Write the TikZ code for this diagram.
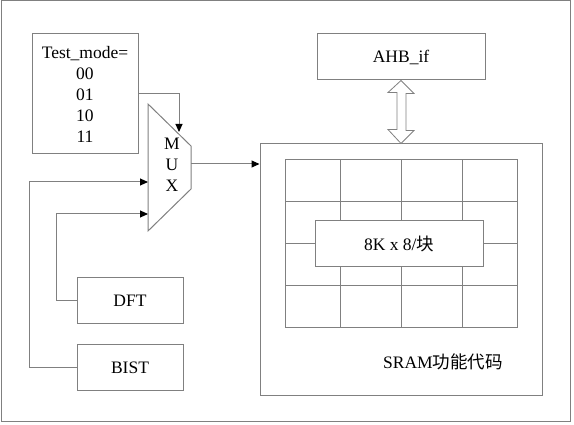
\documentclass[tikz,border=0pt]{standalone}
\usepackage{fontspec}
\setmainfont{Liberation Serif}
\newfontfamily\tnr{Liberation Serif}
\newfontfamily\cjk{Noto Sans CJK SC}
\usetikzlibrary{arrows.meta,calc}
\definecolor{linec}{RGB}{128,128,128}
\begin{document}
\begin{tikzpicture}[x=1pt,y=-1pt,
  font=\tnr\fontsize{17.5}{21}\selectfont,
  box/.style={draw=linec, line width=1pt, inner sep=0pt},
  conn/.style={draw=linec, line width=1pt, -{Triangle[length=8pt,width=7pt,fill=black,color=black]}},
  gridl/.style={draw=linec, line width=1pt}]
\useasboundingbox (0,0) rectangle (574,425);
\draw[linec, line width=1pt] (1,1) rectangle (570,421);

% Test mode box
\node[box, minimum width=106pt, minimum height=120pt, align=center] (tm) at (85,94)
  {Test\_mode=\\00\\01\\10\\11};

% AHB interface
\node[box, minimum width=168pt, minimum height=46pt] (ahb) at (401,57) {AHB\_if};

% SRAM outer box
\node[box, minimum width=282pt, minimum height=251pt] (sram) at (401,269.5) {};

% grid
\draw[gridl] (285,160) rectangle (517,328);
\foreach \gx in {340,401,462} \draw[gridl] (\gx,160) -- (\gx,328);
\foreach \gy in {202,244,286} \draw[gridl] (285,\gy) -- (517,\gy);

\node[box, fill=white, minimum width=168pt, minimum height=46pt] (blk) at (399,244) {8K x 8/{\cjk 块}};
\node (lbl) at (443,362) {SRAM{\cjk 功能代码}};

% DFT and BIST
\node[box, minimum width=106pt, minimum height=46pt] (dft) at (130,301) {DFT};
\node[box, minimum width=106pt, minimum height=46pt] (bist) at (130,368) {BIST};

% MUX
\draw[linec, line width=1pt] (148,104) -- (191,146) -- (191,189) -- (148,231) -- cycle;
\node[align=center] (mux) at (172,165) {M\\U\\X};
\coordinate (muxout) at (191,164);
\coordinate (muxin1) at (148,182);
\coordinate (muxin2) at (148,214);
\coordinate (muxsel) at (179,132);

% connectors
\draw[conn] (tm.east) -| (muxsel);
\draw[conn] (muxout) -- (sram.west |- muxout);
\draw[conn] (bist.west) -- ++(-47,0) |- (muxin1);
\draw[conn] (dft.west) -- ++(-20,0) |- (muxin2);

% double arrow between AHB and SRAM
\draw[linec, line width=0.8pt, fill=white] (ahb.south) -- ++(13,13) -- ++(-8,0) -- ++(0,37) -- ++(8,0)
  -- (sram.north) -- ++(-13,-14) -- ++(9,0) -- ++(0,-37) -- ++(-9,0) -- cycle;
\end{tikzpicture}
\end{document}
